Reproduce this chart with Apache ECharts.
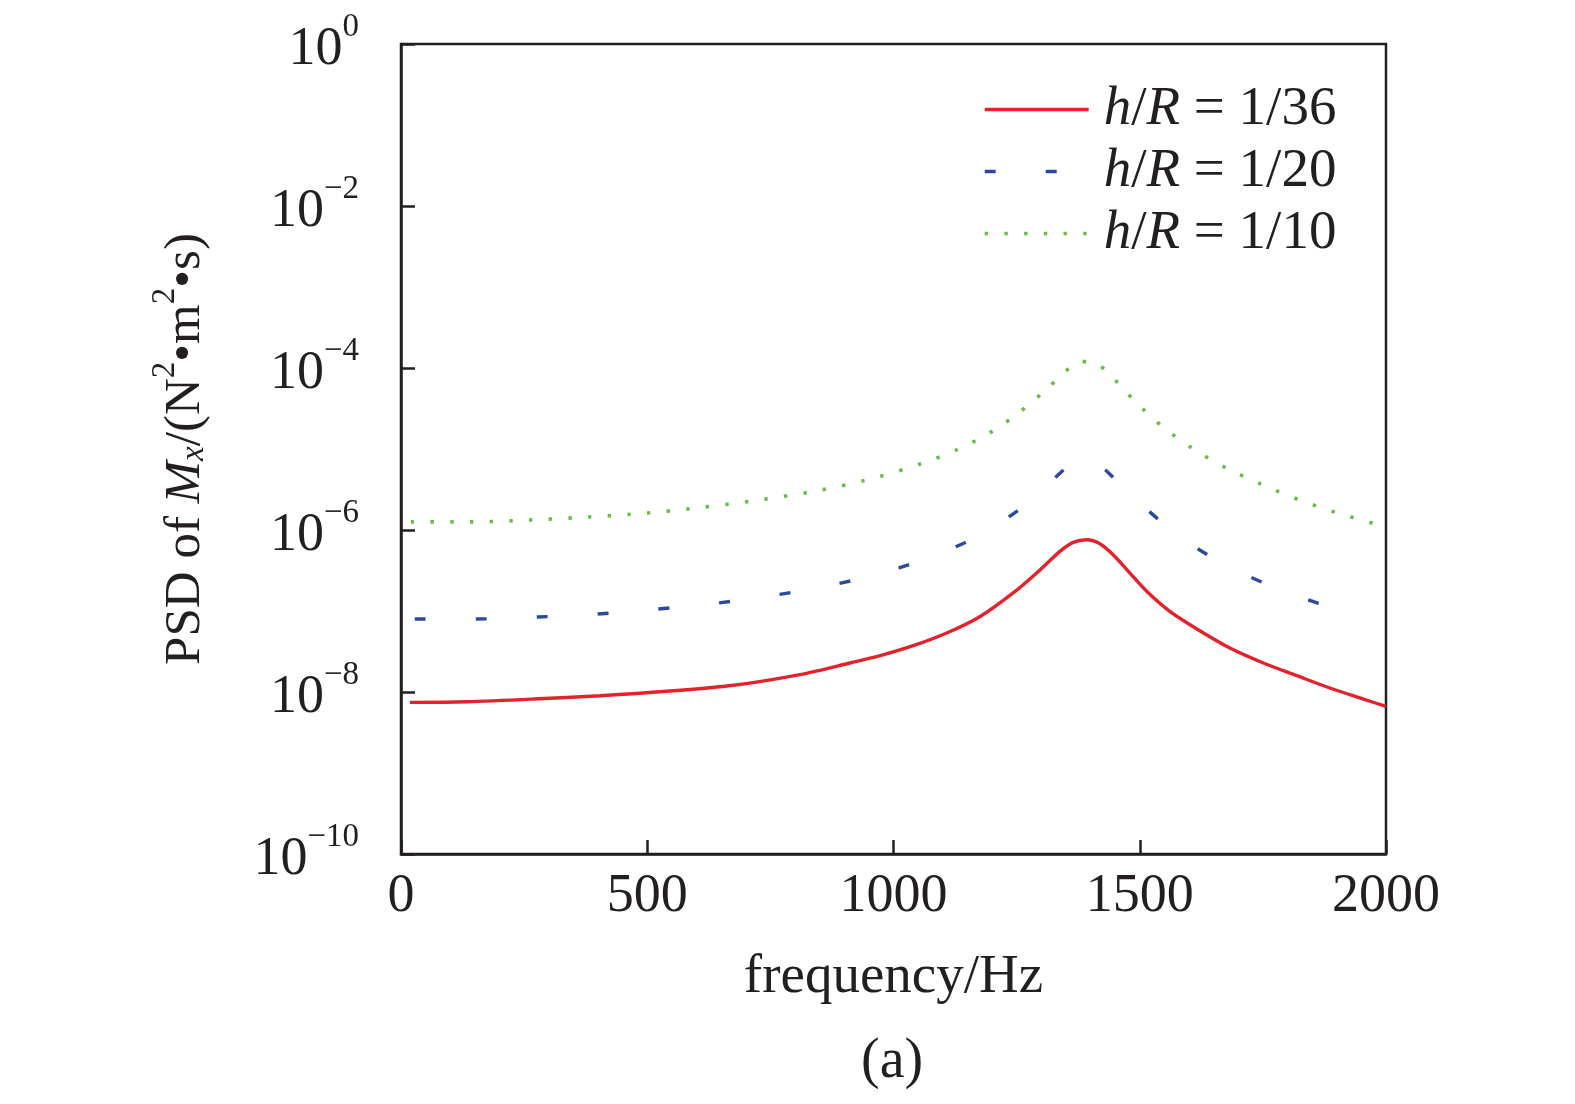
<!DOCTYPE html>
<html>
<head>
<meta charset="utf-8">
<script src="https://cdn.jsdelivr.net/npm/echarts@6/dist/echarts.min.js"></script>
<style>
  html, body { margin: 0; padding: 0; background: #fff; }
  #chart { width: 1575px; height: 1104px; }
</style>
</head>
<body>
<div id="chart"></div>
<script>
// h/R = 1/36 (red, solid)
const freq36 = [18, 133, 269, 404, 540, 675, 810, 912, 973, 1040, 1108, 1176, 1243, 1298, 1338, 1365, 1392, 1419, 1446, 1480, 1514, 1561, 1616, 1683, 1751, 1819, 1886, 1954, 2000]
const psd36 = [7.45e-9, 7.59e-9, 8.18e-9, 8.99e-9, 1.02e-8, 1.21e-8, 1.64e-8, 2.28e-8, 2.81e-8, 3.73e-8, 5.35e-8, 8.57e-8, 1.67e-7, 3.24e-7, 5.45e-7, 7.03e-7, 7.59e-7, 6.78e-7, 4.95e-7, 2.94e-7, 1.75e-7, 9.89e-8, 6.0e-8, 3.49e-8, 2.28e-8, 1.59e-8, 1.12e-8, 8.18e-9, 6.64e-9]

// h/R = 1/20 (blue, dashed)
const freq20 = [28, 152, 277, 398, 515, 631, 720, 837, 953, 1069, 1181, 1272, 1362, 1390, 1409, 1494, 1584, 1682, 1797, 1912]
const psd20 = [7.96e-8, 7.96e-8, 8.43e-8, 9.18e-8, 1.05e-7, 1.23e-7, 1.45e-7, 1.88e-7, 2.7e-7, 4.47e-7, 8.99e-7, 2.15e-6, 6.71e-6, 7.9e-6, 7.24e-6, 2.32e-6, 8.04e-7, 3.49e-7, 1.72e-7, 9.89e-8]

// h/R = 1/10 (green, dotted)
const freq10 = [20, 141, 263, 381, 500, 616, 712, 826, 942, 1054, 1128, 1193, 1254, 1312, 1341, 1380, 1404, 1434, 1491, 1548, 1611, 1676, 1750, 1825, 1899, 1976]
const psd10 = [1.26e-6, 1.26e-6, 1.33e-6, 1.45e-6, 1.62e-6, 1.92e-6, 2.28e-6, 2.91e-6, 4.09e-6, 6.53e-6, 9.73e-6, 1.55e-5, 2.78e-5, 5.55e-5, 8.18e-5, 1.2e-4, 1.19e-4, 8.93e-5, 3.84e-5, 1.85e-5, 9.79e-6, 5.82e-6, 3.6e-6, 2.34e-6, 1.64e-6, 1.2e-6]

const xTicks = [0, 500, 1000, 1500, 2000]

const FONT = '"Liberation Serif", "DejaVu Serif", serif'
const INK = '#231f20'
const RED = '#e3232b'
const BLUE = '#2b4a9c'
const GREEN = '#69bd45'

const pairs = (xs, ys) => xs.map((x, i) => [x, ys[i]])

const chart = echarts.init(document.getElementById('chart'))

const option = {
  animation: false,
  textStyle: { fontFamily: FONT, color: INK },
  grid: {
    left: 401, right: 189, top: 44, bottom: 250,
    show: true,
    borderColor: INK,
    borderWidth: 2.5
  },
  legend: {
    orient: 'vertical',
    left: 978,
    top: 77,
    itemWidth: 104,
    itemHeight: 14,
    itemGap: 7,
    itemStyle: { opacity: 0 },
    lineStyle: { width: 3.4 },
    textStyle: {
      fontFamily: FONT,
      fontSize: 55,
      color: INK,
      rich: {
        g: { width: 10 },
        i: { fontFamily: FONT, fontSize: 55, fontStyle: 'italic', color: INK, lineHeight: 56 },
        t: { fontFamily: FONT, fontSize: 55, color: INK, lineHeight: 56 }
      }
    },
    formatter: name => '{g|}{i|h}{t|/}{i|R}{t| = ' + name + '}',
    data: ['1/36', '1/20', '1/10']
  },
  xAxis: {
    type: 'value',
    min: 0,
    max: 2000,
    interval: 500,
    name: 'frequency/Hz',
    nameLocation: 'middle',
    nameGap: 96,
    nameTextStyle: { fontFamily: FONT, fontSize: 55, color: INK },
    axisLine: { lineStyle: { color: INK, width: 2.5 } },
    axisTick: { inside: true, length: 14, lineStyle: { color: INK, width: 2.5 } },
    axisLabel: {
      margin: 16,
      fontFamily: FONT,
      fontSize: 54,
      color: INK,
      formatter: v => xTicks.includes(v) ? String(v) : ''
    },
    splitLine: { show: false }
  },
  yAxis: {
    type: 'log',
    logBase: 10,
    min: 1e-10,
    max: 1,
    interval: 2,
    name: '{t|PSD of }{i|M}{sub|x}{t|/(N}{sup|2}{t|•m}{sup|2}{t|•s)}',
    nameLocation: 'middle',
    nameRotate: 90,
    nameGap: 190,
    nameTextStyle: {
      rich: {
        t: { fontFamily: FONT, fontSize: 51, color: INK, lineHeight: 62, verticalAlign: 'bottom' },
        i: { fontFamily: FONT, fontSize: 51, fontStyle: 'italic', color: INK, lineHeight: 62, verticalAlign: 'bottom' },
        sub: { fontFamily: FONT, fontSize: 33, fontStyle: 'italic', color: INK, lineHeight: 24, verticalAlign: 'bottom' },
        sup: { fontFamily: FONT, fontSize: 33, color: INK, lineHeight: 34, verticalAlign: 'top' }
      }
    },
    axisLine: { lineStyle: { color: INK, width: 2.5 } },
    axisTick: { inside: true, length: 14, lineStyle: { color: INK, width: 2.5 } },
    axisLabel: {
      margin: 42,
      formatter: v => {
        const e = Math.round(Math.log10(v))
        return '{b|10}{s|' + (e < 0 ? '\u2212' + (-e) : e) + '}'
      },
      rich: {
        b: { fontFamily: FONT, fontSize: 54, color: INK, lineHeight: 66, verticalAlign: 'bottom' },
        s: { fontFamily: FONT, fontSize: 33, color: INK, lineHeight: 40, verticalAlign: 'top' }
      }
    },
    splitLine: { show: false }
  },
  series: [
    {
      name: '1/36',
      type: 'line',
      data: pairs(freq36, psd36),
      showSymbol: false,
      symbol: 'none',
      smooth: 0.3,
      itemStyle: { color: RED },
      lineStyle: { color: RED, width: 3.4 }
    },
    {
      name: '1/20',
      type: 'line',
      data: pairs(freq20, psd20),
      showSymbol: false,
      symbol: 'none',
      smooth: 0.3,
      itemStyle: { color: BLUE },
      lineStyle: { color: BLUE, width: 3.4, type: [11, 50] }
    },
    {
      name: '1/10',
      type: 'line',
      data: pairs(freq10, psd10),
      showSymbol: false,
      symbol: 'none',
      smooth: 0.3,
      itemStyle: { color: GREEN },
      lineStyle: { color: GREEN, width: 3.6, type: [3.4, 16.3] }
    }
  ],
  graphic: [{
    type: 'text',
    left: 861,
    top: 1034,
    style: { text: '(a)', font: '56px ' + FONT, fill: INK }
  }]
}

chart.setOption(option)
</script>
</body>
</html>
